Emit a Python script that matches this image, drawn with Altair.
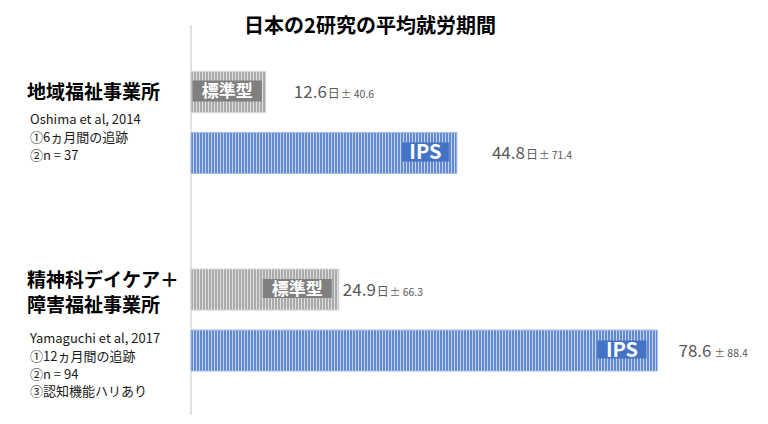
import altair as alt
import pandas as pd

# ---------------- data ----------------
title_text = "日本の2研究の平均就労期間"
group_names = [["地域福祉事業所"], ["精神科デイケア＋", "障害福祉事業所"]]
study_notes = [
    ["Oshima et al, 2014", "①6ヵ月間の追跡", "②n = 37"],
    ["Yamaguchi et al, 2017", "①12ヵ月間の追跡", "②n = 94", "③認知機能ハリあり"],
]
program_types = ["標準型", "IPS"]
mean_values = [[12.6, 44.8], [24.9, 78.6]]
sd_values = [[40.6, 71.4], [66.3, 88.4]]
unit_labels = [["日", "日"], ["日", ""]]

# ---------------- layout (pixels) ----------------
FONT = "Noto Sans CJK JP"
PAD_L, PAD_T = 183, 17
W, H = 560, 390
PX_PER_UNIT = 5.935
X_MAX = W / PX_PER_UNIT
ROW_PX = 61.0
Y_MAX = H / ROW_PX
GROUP_BASE_PX = [67.0, 264.5]
BAR_STEP_PX = 61.0
BAR_HALF_PX = 20.5
# inner label boxes: (gap from bar end, width, height)
BOX_SPEC = [[(4, 69, 21), (8, 47, 19)], [(7, 69, 19), (11, 49, 18)]]
BOX_FONT = {"標準型": 17, "IPS": 20}
# value label start gap after bar end
LABEL_GAP = [[28, 35], [4, 21]]
UNIT_DX = 34
SD_DX_WITH_UNIT = 47
SD_DX_NO_UNIT = 36
GROUP_LABEL_OFFSETS = [[1], [-8.5, 16.5]]       # px from first bar center
NOTE_START = [28, 49.5]                          # px from first bar center
NOTE_STEP = 17.8
TITLE_X, TITLE_Y = 179, 1.5

def slot(px):
    return px / ROW_PX

bars, boxes, labels = [], [], []
for gi in range(len(mean_values)):
    for bi, ptype in enumerate(program_types):
        v = mean_values[gi][bi]
        cpx = GROUP_BASE_PX[gi] + bi * BAR_STEP_PX
        bars.append(dict(g=gi, b=bi, type=ptype, v=v, x0=0.0,
                         y=slot(cpx - BAR_HALF_PX), y2=slot(cpx + BAR_HALF_PX)))
        gap, bw, bh = BOX_SPEC[gi][bi]
        boxes.append(dict(type=ptype, x=v - (gap + bw) / PX_PER_UNIT,
                          x2=v - gap / PX_PER_UNIT,
                          xc=v - (gap + bw / 2) / PX_PER_UNIT,
                          y=slot(cpx - 1 - bh / 2), y2=slot(cpx - 1 + bh / 2),
                          yc=slot(cpx - 1), fs=BOX_FONT[ptype]))
        lx = v + LABEL_GAP[gi][bi] / PX_PER_UNIT
        unit = unit_labels[gi][bi]
        sd_dx = SD_DX_WITH_UNIT if unit else SD_DX_NO_UNIT
        labels.append(dict(num=f"{v:.1f}", unit=unit, sd=f"± {sd_values[gi][bi]:.1f}",
                           x=lx, xu=lx + UNIT_DX / PX_PER_UNIT,
                           xs=lx + sd_dx / PX_PER_UNIT, y=slot(cpx)))

texts_big, texts_small = [], []
for gi in range(len(group_names)):
    base = GROUP_BASE_PX[gi]
    for li, line in enumerate(group_names[gi]):
        texts_big.append(dict(t=line, y=slot(base + GROUP_LABEL_OFFSETS[gi][li])))
    for li, line in enumerate(study_notes[gi]):
        texts_small.append(dict(t=line, y=slot(base + NOTE_START[gi] + li * NOTE_STEP)))

bars_df = pd.DataFrame(bars)
boxes_df = pd.DataFrame(boxes)
labels_df = pd.DataFrame(labels)
axis_df = pd.DataFrame({"x0": [0.0], "ya": [0.0], "yb": [Y_MAX], "title": [title_text]})

xs = alt.Scale(domain=[0, X_MAX], nice=False, zero=True)
ys = alt.Scale(domain=[0, Y_MAX], nice=False, zero=True, reverse=True)

# (stripe colour, gap colour, stripe px, gap px, border, label box)
STYLE = {
    "標準型": ("#aaaaaa", "#dedede", 2, 1, "#d5d5d5", "#7f7f7f"),
    "IPS": ("#628ad1", "#c4d4f0", 2, 1, "#a9bfe6", "#4472c4"),
}

def stripes(width_px, dark, light, dpx, lpx):
    period = dpx + lpx
    n = int(width_px // period) + 1
    length = n * period                     # integer-pixel pattern, extends past bar end
    stops = []
    for i in range(n):
        a = i * period / length
        m = (i * period + dpx) / length
        b = (i + 1) * period / length
        stops += [{"offset": a, "color": dark}, {"offset": m, "color": dark},
                  {"offset": m, "color": light}, {"offset": b, "color": light}]
    return {"gradient": "linear", "x1": 0, "x2": length / width_px, "y1": 0, "y2": 0,
            "stops": stops}

layers = []
# vertical axis line
layers.append(
    alt.Chart(axis_df).mark_rule(color="#d9d9d9", strokeWidth=1.5).encode(
        x=alt.X("x0:Q", scale=xs, axis=None),
        y=alt.Y("ya:Q", scale=ys, axis=None), y2="yb:Q",
    )
)
# title
layers.append(
    alt.Chart(axis_df).mark_text(font=FONT, fontSize=20, fontWeight="bold", color="#000000",
                                 align="center", baseline="middle").encode(
        x=alt.value(TITLE_X), y=alt.value(TITLE_Y), text="title:N"
    )
)
# bars, each with its own striped fill
for r in bars:
    dark, light, dpx, lpx, stroke, _ = STYLE[r["type"]]
    sub = bars_df[(bars_df.g == r["g"]) & (bars_df.b == r["b"])]
    layers.append(
        alt.Chart(sub).mark_rect(
            fill=stripes(r["v"] * PX_PER_UNIT, dark, light, dpx, lpx),
            stroke=stroke, strokeWidth=1,
        ).encode(
            x=alt.X("x0:Q", scale=xs, axis=None), x2="v:Q",
            y=alt.Y("y:Q", scale=ys, axis=None), y2="y2:Q",
        )
    )
# inner label boxes
layers.append(
    alt.Chart(boxes_df).mark_rect().encode(
        x=alt.X("x:Q", scale=xs, axis=None), x2="x2:Q",
        y=alt.Y("y:Q", scale=ys, axis=None), y2="y2:Q",
        color=alt.Color("type:N", scale=alt.Scale(domain=program_types,
                        range=[STYLE[t][5] for t in program_types]), legend=None),
    )
)
layers.append(
    alt.Chart(boxes_df).mark_text(font=FONT, fontWeight="bold", color="white",
                                  baseline="middle", align="center", dy=1).encode(
        x=alt.X("xc:Q", scale=xs, axis=None), y=alt.Y("yc:Q", scale=ys, axis=None),
        text="type:N", size=alt.Size("fs:Q", scale=None),
    )
)
# value labels
layers.append(
    alt.Chart(labels_df).mark_text(font=FONT, fontSize=17, color="#595959",
                                   align="left", baseline="alphabetic", dy=6).encode(
        x=alt.X("x:Q", scale=xs, axis=None), y=alt.Y("y:Q", scale=ys, axis=None), text="num:N"
    )
)
layers.append(
    alt.Chart(labels_df).mark_text(font=FONT, fontSize=12, color="#595959",
                                   align="left", baseline="alphabetic", dy=6).encode(
        x=alt.X("xu:Q", scale=xs, axis=None), y=alt.Y("y:Q", scale=ys, axis=None), text="unit:N"
    )
)
layers.append(
    alt.Chart(labels_df).mark_text(font=FONT, fontSize=10.5, color="#595959",
                                   align="left", baseline="alphabetic", dy=6).encode(
        x=alt.X("xs:Q", scale=xs, axis=None), y=alt.Y("y:Q", scale=ys, axis=None), text="sd:N"
    )
)
# left annotations
layers.append(
    alt.Chart(pd.DataFrame(texts_big)).mark_text(font=FONT, fontSize=19, fontWeight="bold",
                                                 color="#000000", align="left",
                                                 baseline="middle").encode(
        x=alt.value(-164), y=alt.Y("y:Q", scale=ys, axis=None), text="t:N"
    )
)
layers.append(
    alt.Chart(pd.DataFrame(texts_small)).mark_text(font=FONT, fontSize=13,
                                                   color="#1a1a1a", align="left",
                                                   baseline="middle").encode(
        x=alt.value(-161), y=alt.Y("y:Q", scale=ys, axis=None), text="t:N"
    )
)

chart = alt.layer(*layers).properties(
    width=W, height=H,
    autosize=alt.AutoSizeParams(type="none"),
    padding={"left": PAD_L, "top": PAD_T, "right": 0, "bottom": 0},
).configure(background="white", view=alt.ViewConfig(stroke=None))

chart.save("out.html", embed_options={"renderer": "svg", "actions": False})
